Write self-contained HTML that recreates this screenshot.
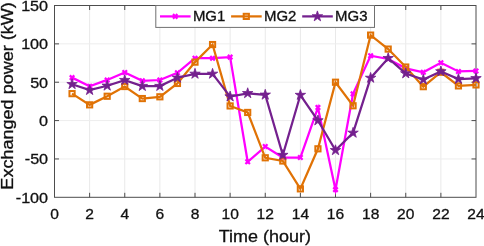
<!DOCTYPE html>
<html><head><meta charset="utf-8"><title>Exchanged power</title>
<style>html,body{margin:0;padding:0;background:#fff;overflow:hidden}svg{display:block}</style></head>
<body>
<svg width="484" height="246" viewBox="0 0 484 246" style="display:block">
<rect width="484" height="246" fill="#fff"/>
<line x1="89.62" y1="5.5" x2="89.62" y2="197.3" stroke="#e9e9e9" stroke-width="1"/>
<line x1="124.75" y1="5.5" x2="124.75" y2="197.3" stroke="#e9e9e9" stroke-width="1"/>
<line x1="159.88" y1="5.5" x2="159.88" y2="197.3" stroke="#e9e9e9" stroke-width="1"/>
<line x1="195.00" y1="5.5" x2="195.00" y2="197.3" stroke="#e9e9e9" stroke-width="1"/>
<line x1="230.12" y1="5.5" x2="230.12" y2="197.3" stroke="#e9e9e9" stroke-width="1"/>
<line x1="265.25" y1="5.5" x2="265.25" y2="197.3" stroke="#e9e9e9" stroke-width="1"/>
<line x1="300.38" y1="5.5" x2="300.38" y2="197.3" stroke="#e9e9e9" stroke-width="1"/>
<line x1="335.50" y1="5.5" x2="335.50" y2="197.3" stroke="#e9e9e9" stroke-width="1"/>
<line x1="370.62" y1="5.5" x2="370.62" y2="197.3" stroke="#e9e9e9" stroke-width="1"/>
<line x1="405.75" y1="5.5" x2="405.75" y2="197.3" stroke="#e9e9e9" stroke-width="1"/>
<line x1="440.88" y1="5.5" x2="440.88" y2="197.3" stroke="#e9e9e9" stroke-width="1"/>
<line x1="54.5" y1="43.86" x2="476.0" y2="43.86" stroke="#ededed" stroke-width="1"/>
<line x1="54.5" y1="82.22" x2="476.0" y2="82.22" stroke="#ededed" stroke-width="1"/>
<line x1="54.5" y1="120.58" x2="476.0" y2="120.58" stroke="#ededed" stroke-width="1"/>
<line x1="54.5" y1="158.94" x2="476.0" y2="158.94" stroke="#ededed" stroke-width="1"/>
<clipPath id="c"><rect x="54.5" y="5.5" width="421.5" height="191.8"/></clipPath>
<rect x="54.5" y="5.5" width="421.5" height="191.8" fill="none" stroke="#4d4d4d" stroke-width="1"/>
<line x1="89.62" y1="197.3" x2="89.62" y2="192.8" stroke="#4d4d4d" stroke-width="1"/>
<line x1="89.62" y1="5.5" x2="89.62" y2="10.0" stroke="#4d4d4d" stroke-width="1"/>
<line x1="124.75" y1="197.3" x2="124.75" y2="192.8" stroke="#4d4d4d" stroke-width="1"/>
<line x1="124.75" y1="5.5" x2="124.75" y2="10.0" stroke="#4d4d4d" stroke-width="1"/>
<line x1="159.88" y1="197.3" x2="159.88" y2="192.8" stroke="#4d4d4d" stroke-width="1"/>
<line x1="159.88" y1="5.5" x2="159.88" y2="10.0" stroke="#4d4d4d" stroke-width="1"/>
<line x1="195.00" y1="197.3" x2="195.00" y2="192.8" stroke="#4d4d4d" stroke-width="1"/>
<line x1="195.00" y1="5.5" x2="195.00" y2="10.0" stroke="#4d4d4d" stroke-width="1"/>
<line x1="230.12" y1="197.3" x2="230.12" y2="192.8" stroke="#4d4d4d" stroke-width="1"/>
<line x1="230.12" y1="5.5" x2="230.12" y2="10.0" stroke="#4d4d4d" stroke-width="1"/>
<line x1="265.25" y1="197.3" x2="265.25" y2="192.8" stroke="#4d4d4d" stroke-width="1"/>
<line x1="265.25" y1="5.5" x2="265.25" y2="10.0" stroke="#4d4d4d" stroke-width="1"/>
<line x1="300.38" y1="197.3" x2="300.38" y2="192.8" stroke="#4d4d4d" stroke-width="1"/>
<line x1="300.38" y1="5.5" x2="300.38" y2="10.0" stroke="#4d4d4d" stroke-width="1"/>
<line x1="335.50" y1="197.3" x2="335.50" y2="192.8" stroke="#4d4d4d" stroke-width="1"/>
<line x1="335.50" y1="5.5" x2="335.50" y2="10.0" stroke="#4d4d4d" stroke-width="1"/>
<line x1="370.62" y1="197.3" x2="370.62" y2="192.8" stroke="#4d4d4d" stroke-width="1"/>
<line x1="370.62" y1="5.5" x2="370.62" y2="10.0" stroke="#4d4d4d" stroke-width="1"/>
<line x1="405.75" y1="197.3" x2="405.75" y2="192.8" stroke="#4d4d4d" stroke-width="1"/>
<line x1="405.75" y1="5.5" x2="405.75" y2="10.0" stroke="#4d4d4d" stroke-width="1"/>
<line x1="440.88" y1="197.3" x2="440.88" y2="192.8" stroke="#4d4d4d" stroke-width="1"/>
<line x1="440.88" y1="5.5" x2="440.88" y2="10.0" stroke="#4d4d4d" stroke-width="1"/>
<line x1="54.5" y1="43.86" x2="59.0" y2="43.86" stroke="#4d4d4d" stroke-width="1"/>
<line x1="476.0" y1="43.86" x2="471.5" y2="43.86" stroke="#4d4d4d" stroke-width="1"/>
<line x1="54.5" y1="82.22" x2="59.0" y2="82.22" stroke="#4d4d4d" stroke-width="1"/>
<line x1="476.0" y1="82.22" x2="471.5" y2="82.22" stroke="#4d4d4d" stroke-width="1"/>
<line x1="54.5" y1="120.58" x2="59.0" y2="120.58" stroke="#4d4d4d" stroke-width="1"/>
<line x1="476.0" y1="120.58" x2="471.5" y2="120.58" stroke="#4d4d4d" stroke-width="1"/>
<line x1="54.5" y1="158.94" x2="59.0" y2="158.94" stroke="#4d4d4d" stroke-width="1"/>
<line x1="476.0" y1="158.94" x2="471.5" y2="158.94" stroke="#4d4d4d" stroke-width="1"/>
<g>
<polyline points="72.06,77.62 89.62,86.21 107.19,79.92 124.75,72.55 142.31,80.76 159.88,80.00 177.44,72.78 195.00,58.21 212.56,58.21 230.12,57.13 247.69,161.78 265.25,146.59 282.81,157.56 300.38,157.56 317.94,107.54 335.50,189.63 353.06,93.88 370.62,55.67 388.19,58.97 405.75,68.33 423.31,72.32 440.88,62.73 458.44,71.48 476.00,70.94" fill="none" stroke="#FF00FF" stroke-width="2.25" stroke-linejoin="miter" stroke-miterlimit="6"/>
<path d="M69.81 75.37L74.31 79.87M69.81 79.87L74.31 75.37" stroke="#FF00FF" stroke-width="2.2" fill="none"/>
<path d="M87.38 83.96L91.88 88.46M87.38 88.46L91.88 83.96" stroke="#FF00FF" stroke-width="2.2" fill="none"/>
<path d="M104.94 77.67L109.44 82.17M104.94 82.17L109.44 77.67" stroke="#FF00FF" stroke-width="2.2" fill="none"/>
<path d="M122.50 70.30L127.00 74.80M122.50 74.80L127.00 70.30" stroke="#FF00FF" stroke-width="2.2" fill="none"/>
<path d="M140.06 78.51L144.56 83.01M140.06 83.01L144.56 78.51" stroke="#FF00FF" stroke-width="2.2" fill="none"/>
<path d="M157.62 77.75L162.12 82.25M157.62 82.25L162.12 77.75" stroke="#FF00FF" stroke-width="2.2" fill="none"/>
<path d="M175.19 70.53L179.69 75.03M175.19 75.03L179.69 70.53" stroke="#FF00FF" stroke-width="2.2" fill="none"/>
<path d="M192.75 55.96L197.25 60.46M192.75 60.46L197.25 55.96" stroke="#FF00FF" stroke-width="2.2" fill="none"/>
<path d="M210.31 55.96L214.81 60.46M210.31 60.46L214.81 55.96" stroke="#FF00FF" stroke-width="2.2" fill="none"/>
<path d="M227.88 54.88L232.38 59.38M227.88 59.38L232.38 54.88" stroke="#FF00FF" stroke-width="2.2" fill="none"/>
<path d="M245.44 159.53L249.94 164.03M245.44 164.03L249.94 159.53" stroke="#FF00FF" stroke-width="2.2" fill="none"/>
<path d="M263.00 144.34L267.50 148.84M263.00 148.84L267.50 144.34" stroke="#FF00FF" stroke-width="2.2" fill="none"/>
<path d="M280.56 155.31L285.06 159.81M280.56 159.81L285.06 155.31" stroke="#FF00FF" stroke-width="2.2" fill="none"/>
<path d="M298.12 155.31L302.62 159.81M298.12 159.81L302.62 155.31" stroke="#FF00FF" stroke-width="2.2" fill="none"/>
<path d="M315.69 105.29L320.19 109.79M315.69 109.79L320.19 105.29" stroke="#FF00FF" stroke-width="2.2" fill="none"/>
<path d="M333.25 187.38L337.75 191.88M333.25 191.88L337.75 187.38" stroke="#FF00FF" stroke-width="2.2" fill="none"/>
<path d="M350.81 91.63L355.31 96.13M350.81 96.13L355.31 91.63" stroke="#FF00FF" stroke-width="2.2" fill="none"/>
<path d="M368.38 53.42L372.88 57.92M368.38 57.92L372.88 53.42" stroke="#FF00FF" stroke-width="2.2" fill="none"/>
<path d="M385.94 56.72L390.44 61.22M385.94 61.22L390.44 56.72" stroke="#FF00FF" stroke-width="2.2" fill="none"/>
<path d="M403.50 66.08L408.00 70.58M403.50 70.58L408.00 66.08" stroke="#FF00FF" stroke-width="2.2" fill="none"/>
<path d="M421.06 70.07L425.56 74.57M421.06 74.57L425.56 70.07" stroke="#FF00FF" stroke-width="2.2" fill="none"/>
<path d="M438.62 60.48L443.12 64.98M438.62 64.98L443.12 60.48" stroke="#FF00FF" stroke-width="2.2" fill="none"/>
<path d="M456.19 69.23L460.69 73.73M456.19 73.73L460.69 69.23" stroke="#FF00FF" stroke-width="2.2" fill="none"/>
<path d="M473.75 68.69L478.25 73.19M473.75 73.19L478.25 68.69" stroke="#FF00FF" stroke-width="2.2" fill="none"/>
<polyline points="72.06,93.65 89.62,104.85 107.19,96.26 124.75,86.52 142.31,98.56 159.88,96.80 177.44,83.45 195.00,62.12 212.56,44.55 230.12,105.93 247.69,112.45 265.25,157.79 282.81,161.01 300.38,188.86 317.94,148.81 335.50,82.22 353.06,105.77 370.62,35.11 388.19,49.08 405.75,67.03 423.31,86.67 440.88,72.25 458.44,85.90 476.00,84.91" fill="none" stroke="#E07205" stroke-width="2.25" stroke-linejoin="miter" stroke-miterlimit="6"/>
<rect x="69.46" y="91.05" width="5.20" height="5.20" fill="none" stroke="#E07205" stroke-width="2.0"/>
<rect x="87.03" y="102.25" width="5.20" height="5.20" fill="none" stroke="#E07205" stroke-width="2.0"/>
<rect x="104.59" y="93.66" width="5.20" height="5.20" fill="none" stroke="#E07205" stroke-width="2.0"/>
<rect x="122.15" y="83.92" width="5.20" height="5.20" fill="none" stroke="#E07205" stroke-width="2.0"/>
<rect x="139.71" y="95.96" width="5.20" height="5.20" fill="none" stroke="#E07205" stroke-width="2.0"/>
<rect x="157.28" y="94.20" width="5.20" height="5.20" fill="none" stroke="#E07205" stroke-width="2.0"/>
<rect x="174.84" y="80.85" width="5.20" height="5.20" fill="none" stroke="#E07205" stroke-width="2.0"/>
<rect x="192.40" y="59.52" width="5.20" height="5.20" fill="none" stroke="#E07205" stroke-width="2.0"/>
<rect x="209.96" y="41.95" width="5.20" height="5.20" fill="none" stroke="#E07205" stroke-width="2.0"/>
<rect x="227.53" y="103.33" width="5.20" height="5.20" fill="none" stroke="#E07205" stroke-width="2.0"/>
<rect x="245.09" y="109.85" width="5.20" height="5.20" fill="none" stroke="#E07205" stroke-width="2.0"/>
<rect x="262.65" y="155.19" width="5.20" height="5.20" fill="none" stroke="#E07205" stroke-width="2.0"/>
<rect x="280.21" y="158.41" width="5.20" height="5.20" fill="none" stroke="#E07205" stroke-width="2.0"/>
<rect x="297.77" y="186.26" width="5.20" height="5.20" fill="none" stroke="#E07205" stroke-width="2.0"/>
<rect x="315.34" y="146.21" width="5.20" height="5.20" fill="none" stroke="#E07205" stroke-width="2.0"/>
<rect x="332.90" y="79.62" width="5.20" height="5.20" fill="none" stroke="#E07205" stroke-width="2.0"/>
<rect x="350.46" y="103.17" width="5.20" height="5.20" fill="none" stroke="#E07205" stroke-width="2.0"/>
<rect x="368.02" y="32.51" width="5.20" height="5.20" fill="none" stroke="#E07205" stroke-width="2.0"/>
<rect x="385.59" y="46.48" width="5.20" height="5.20" fill="none" stroke="#E07205" stroke-width="2.0"/>
<rect x="403.15" y="64.43" width="5.20" height="5.20" fill="none" stroke="#E07205" stroke-width="2.0"/>
<rect x="420.71" y="84.07" width="5.20" height="5.20" fill="none" stroke="#E07205" stroke-width="2.0"/>
<rect x="438.27" y="69.65" width="5.20" height="5.20" fill="none" stroke="#E07205" stroke-width="2.0"/>
<rect x="455.84" y="83.30" width="5.20" height="5.20" fill="none" stroke="#E07205" stroke-width="2.0"/>
<rect x="473.40" y="82.31" width="5.20" height="5.20" fill="none" stroke="#E07205" stroke-width="2.0"/>
<polyline points="72.06,84.21 89.62,90.12 107.19,85.75 124.75,80.15 142.31,86.13 159.88,86.06 177.44,77.77 195.00,73.86 212.56,73.86 230.12,96.57 247.69,93.27 265.25,94.80 282.81,155.03 300.38,95.03 317.94,120.50 335.50,150.27 353.06,132.86 370.62,77.92 388.19,58.21 405.75,73.47 423.31,79.61 440.88,71.48 458.44,79.07 476.00,78.31" fill="none" stroke="#74208E" stroke-width="2.25" stroke-linejoin="miter" stroke-miterlimit="6"/>
<polygon points="72.06,78.71 73.30,82.51 77.29,82.52 74.06,84.86 75.30,88.66 72.06,86.32 68.83,88.66 70.06,84.86 66.83,82.52 70.83,82.51" fill="#74208E" stroke="#74208E" stroke-width="0.8" stroke-linejoin="miter"/>
<polygon points="89.62,84.62 90.86,88.42 94.86,88.42 91.62,90.77 92.86,94.57 89.62,92.22 86.39,94.57 87.63,90.77 84.39,88.42 88.39,88.42" fill="#74208E" stroke="#74208E" stroke-width="0.8" stroke-linejoin="miter"/>
<polygon points="107.19,80.25 108.42,84.05 112.42,84.05 109.19,86.40 110.42,90.20 107.19,87.85 103.95,90.20 105.19,86.40 101.96,84.05 105.95,84.05" fill="#74208E" stroke="#74208E" stroke-width="0.8" stroke-linejoin="miter"/>
<polygon points="124.75,74.65 125.98,78.45 129.98,78.45 126.75,80.80 127.98,84.60 124.75,82.25 121.52,84.60 122.75,80.80 119.52,78.45 123.52,78.45" fill="#74208E" stroke="#74208E" stroke-width="0.8" stroke-linejoin="miter"/>
<polygon points="142.31,80.63 143.55,84.43 147.54,84.43 144.31,86.78 145.55,90.58 142.31,88.23 139.08,90.58 140.31,86.78 137.08,84.43 141.08,84.43" fill="#74208E" stroke="#74208E" stroke-width="0.8" stroke-linejoin="miter"/>
<polygon points="159.88,80.56 161.11,84.36 165.11,84.36 161.87,86.71 163.11,90.51 159.88,88.16 156.64,90.51 157.88,86.71 154.64,84.36 158.64,84.36" fill="#74208E" stroke="#74208E" stroke-width="0.8" stroke-linejoin="miter"/>
<polygon points="177.44,72.27 178.67,76.07 182.67,76.07 179.44,78.42 180.67,82.22 177.44,79.87 174.20,82.22 175.44,78.42 172.21,76.07 176.20,76.07" fill="#74208E" stroke="#74208E" stroke-width="0.8" stroke-linejoin="miter"/>
<polygon points="195.00,68.36 196.23,72.16 200.23,72.16 197.00,74.51 198.23,78.31 195.00,75.96 191.77,78.31 193.00,74.51 189.77,72.16 193.77,72.16" fill="#74208E" stroke="#74208E" stroke-width="0.8" stroke-linejoin="miter"/>
<polygon points="212.56,68.36 213.80,72.16 217.79,72.16 214.56,74.51 215.80,78.31 212.56,75.96 209.33,78.31 210.56,74.51 207.33,72.16 211.33,72.16" fill="#74208E" stroke="#74208E" stroke-width="0.8" stroke-linejoin="miter"/>
<polygon points="230.12,91.07 231.36,94.87 235.36,94.87 232.12,97.22 233.36,101.02 230.12,98.67 226.89,101.02 228.13,97.22 224.89,94.87 228.89,94.87" fill="#74208E" stroke="#74208E" stroke-width="0.8" stroke-linejoin="miter"/>
<polygon points="247.69,87.77 248.92,91.57 252.92,91.57 249.69,93.92 250.92,97.72 247.69,95.37 244.45,97.72 245.69,93.92 242.46,91.57 246.45,91.57" fill="#74208E" stroke="#74208E" stroke-width="0.8" stroke-linejoin="miter"/>
<polygon points="265.25,89.30 266.48,93.10 270.48,93.10 267.25,95.45 268.48,99.25 265.25,96.90 262.02,99.25 263.25,95.45 260.02,93.10 264.02,93.10" fill="#74208E" stroke="#74208E" stroke-width="0.8" stroke-linejoin="miter"/>
<polygon points="282.81,149.53 284.05,153.33 288.04,153.33 284.81,155.68 286.05,159.48 282.81,157.13 279.58,159.48 280.81,155.68 277.58,153.33 281.58,153.33" fill="#74208E" stroke="#74208E" stroke-width="0.8" stroke-linejoin="miter"/>
<polygon points="300.38,89.53 301.61,93.33 305.61,93.33 302.37,95.68 303.61,99.48 300.38,97.13 297.14,99.48 298.38,95.68 295.14,93.33 299.14,93.33" fill="#74208E" stroke="#74208E" stroke-width="0.8" stroke-linejoin="miter"/>
<polygon points="317.94,115.00 319.17,118.80 323.17,118.80 319.94,121.15 321.17,124.95 317.94,122.60 314.70,124.95 315.94,121.15 312.71,118.80 316.70,118.80" fill="#74208E" stroke="#74208E" stroke-width="0.8" stroke-linejoin="miter"/>
<polygon points="335.50,144.77 336.73,148.57 340.73,148.57 337.50,150.92 338.73,154.72 335.50,152.37 332.27,154.72 333.50,150.92 330.27,148.57 334.27,148.57" fill="#74208E" stroke="#74208E" stroke-width="0.8" stroke-linejoin="miter"/>
<polygon points="353.06,127.36 354.30,131.16 358.29,131.16 355.06,133.50 356.30,137.30 353.06,134.96 349.83,137.30 351.06,133.50 347.83,131.16 351.83,131.16" fill="#74208E" stroke="#74208E" stroke-width="0.8" stroke-linejoin="miter"/>
<polygon points="370.62,72.42 371.86,76.22 375.86,76.22 372.62,78.57 373.86,82.37 370.62,80.02 367.39,82.37 368.63,78.57 365.39,76.22 369.39,76.22" fill="#74208E" stroke="#74208E" stroke-width="0.8" stroke-linejoin="miter"/>
<polygon points="388.19,52.71 389.42,56.51 393.42,56.51 390.19,58.86 391.42,62.66 388.19,60.31 384.95,62.66 386.19,58.86 382.96,56.51 386.95,56.51" fill="#74208E" stroke="#74208E" stroke-width="0.8" stroke-linejoin="miter"/>
<polygon points="405.75,67.97 406.98,71.77 410.98,71.77 407.75,74.12 408.98,77.92 405.75,75.57 402.52,77.92 403.75,74.12 400.52,71.77 404.52,71.77" fill="#74208E" stroke="#74208E" stroke-width="0.8" stroke-linejoin="miter"/>
<polygon points="423.31,74.11 424.55,77.91 428.54,77.91 425.31,80.26 426.55,84.06 423.31,81.71 420.08,84.06 421.31,80.26 418.08,77.91 422.08,77.91" fill="#74208E" stroke="#74208E" stroke-width="0.8" stroke-linejoin="miter"/>
<polygon points="440.88,65.98 442.11,69.78 446.11,69.78 442.87,72.13 444.11,75.93 440.88,73.58 437.64,75.93 438.88,72.13 435.64,69.78 439.64,69.78" fill="#74208E" stroke="#74208E" stroke-width="0.8" stroke-linejoin="miter"/>
<polygon points="458.44,73.57 459.67,77.37 463.67,77.37 460.44,79.72 461.67,83.52 458.44,81.18 455.20,83.52 456.44,79.72 453.21,77.37 457.20,77.37" fill="#74208E" stroke="#74208E" stroke-width="0.8" stroke-linejoin="miter"/>
<polygon points="476.00,72.81 477.23,76.61 481.23,76.61 478.00,78.96 479.23,82.76 476.00,80.41 472.77,82.76 474.00,78.96 470.77,76.61 474.77,76.61" fill="#74208E" stroke="#74208E" stroke-width="0.8" stroke-linejoin="miter"/>
</g>
<rect x="155.8" y="5.5" width="218.7" height="21.9" fill="#fff" stroke="#707070" stroke-width="1"/>
<line x1="160.0" y1="16.4" x2="190.6" y2="16.4" stroke="#FF00FF" stroke-width="2.25"/>
<path d="M172.95 14.15L177.45 18.65M172.95 18.65L177.45 14.15" stroke="#FF00FF" stroke-width="2.2" fill="none"/>
<text transform="translate(192.9,21.45) scale(1.04,1)" font-size="14.4" text-anchor="start" fill="#111" stroke="#111" stroke-width="0.3" font-family="Liberation Sans, sans-serif">MG1</text>
<line x1="231.1" y1="16.4" x2="261.7" y2="16.4" stroke="#E07205" stroke-width="2.25"/>
<rect x="243.70" y="13.80" width="5.20" height="5.20" fill="none" stroke="#E07205" stroke-width="2.0"/>
<text transform="translate(264.0,21.45) scale(1.04,1)" font-size="14.4" text-anchor="start" fill="#111" stroke="#111" stroke-width="0.3" font-family="Liberation Sans, sans-serif">MG2</text>
<line x1="302.2" y1="16.4" x2="332.8" y2="16.4" stroke="#74208E" stroke-width="2.25"/>
<polygon points="317.40,10.90 318.63,14.70 322.63,14.70 319.40,17.05 320.63,20.85 317.40,18.50 314.17,20.85 315.40,17.05 312.17,14.70 316.17,14.70" fill="#74208E" stroke="#74208E" stroke-width="0.8" stroke-linejoin="miter"/>
<text transform="translate(335.09999999999997,21.45) scale(1.04,1)" font-size="14.4" text-anchor="start" fill="#111" stroke="#111" stroke-width="0.3" font-family="Liberation Sans, sans-serif">MG3</text>
<text transform="translate(54.50,219.2) scale(1.04,1)" font-size="15" text-anchor="middle" fill="#111" stroke="#111" stroke-width="0.3" font-family="Liberation Sans, sans-serif">0</text>
<text transform="translate(89.62,219.2) scale(1.04,1)" font-size="15" text-anchor="middle" fill="#111" stroke="#111" stroke-width="0.3" font-family="Liberation Sans, sans-serif">2</text>
<text transform="translate(124.75,219.2) scale(1.04,1)" font-size="15" text-anchor="middle" fill="#111" stroke="#111" stroke-width="0.3" font-family="Liberation Sans, sans-serif">4</text>
<text transform="translate(159.88,219.2) scale(1.04,1)" font-size="15" text-anchor="middle" fill="#111" stroke="#111" stroke-width="0.3" font-family="Liberation Sans, sans-serif">6</text>
<text transform="translate(195.00,219.2) scale(1.04,1)" font-size="15" text-anchor="middle" fill="#111" stroke="#111" stroke-width="0.3" font-family="Liberation Sans, sans-serif">8</text>
<text transform="translate(230.12,219.2) scale(1.04,1)" font-size="15" text-anchor="middle" fill="#111" stroke="#111" stroke-width="0.3" font-family="Liberation Sans, sans-serif">10</text>
<text transform="translate(265.25,219.2) scale(1.04,1)" font-size="15" text-anchor="middle" fill="#111" stroke="#111" stroke-width="0.3" font-family="Liberation Sans, sans-serif">12</text>
<text transform="translate(300.38,219.2) scale(1.04,1)" font-size="15" text-anchor="middle" fill="#111" stroke="#111" stroke-width="0.3" font-family="Liberation Sans, sans-serif">14</text>
<text transform="translate(335.50,219.2) scale(1.04,1)" font-size="15" text-anchor="middle" fill="#111" stroke="#111" stroke-width="0.3" font-family="Liberation Sans, sans-serif">16</text>
<text transform="translate(370.62,219.2) scale(1.04,1)" font-size="15" text-anchor="middle" fill="#111" stroke="#111" stroke-width="0.3" font-family="Liberation Sans, sans-serif">18</text>
<text transform="translate(405.75,219.2) scale(1.04,1)" font-size="15" text-anchor="middle" fill="#111" stroke="#111" stroke-width="0.3" font-family="Liberation Sans, sans-serif">20</text>
<text transform="translate(440.88,219.2) scale(1.04,1)" font-size="15" text-anchor="middle" fill="#111" stroke="#111" stroke-width="0.3" font-family="Liberation Sans, sans-serif">22</text>
<text transform="translate(476.00,219.2) scale(1.04,1)" font-size="15" text-anchor="middle" fill="#111" stroke="#111" stroke-width="0.3" font-family="Liberation Sans, sans-serif">24</text>
<text transform="translate(48.1,11.00) scale(1.1,1)" font-size="14.7" text-anchor="end" fill="#111" stroke="#111" stroke-width="0.3" font-family="Liberation Sans, sans-serif">150</text>
<text transform="translate(48.1,49.36) scale(1.1,1)" font-size="14.7" text-anchor="end" fill="#111" stroke="#111" stroke-width="0.3" font-family="Liberation Sans, sans-serif">100</text>
<text transform="translate(48.1,87.72) scale(1.1,1)" font-size="14.7" text-anchor="end" fill="#111" stroke="#111" stroke-width="0.3" font-family="Liberation Sans, sans-serif">50</text>
<text transform="translate(48.1,126.08) scale(1.1,1)" font-size="14.7" text-anchor="end" fill="#111" stroke="#111" stroke-width="0.3" font-family="Liberation Sans, sans-serif">0</text>
<text transform="translate(48.1,164.44) scale(1.1,1)" font-size="14.7" text-anchor="end" fill="#111" stroke="#111" stroke-width="0.3" font-family="Liberation Sans, sans-serif">-50</text>
<text transform="translate(48.1,202.80) scale(1.1,1)" font-size="14.7" text-anchor="end" fill="#111" stroke="#111" stroke-width="0.3" font-family="Liberation Sans, sans-serif">-100</text>
<text transform="translate(264.8,241.9) scale(1.125,1)" font-size="16" text-anchor="middle" fill="#111" stroke="#111" stroke-width="0.3" font-family="Liberation Sans, sans-serif">Time (hour)</text>
<text transform="translate(12.9,95.9) rotate(-90) scale(1.128,1)" font-size="16" text-anchor="middle" fill="#111" stroke="#111" stroke-width="0.3" font-family="Liberation Sans, sans-serif">Exchanged power (kW)</text>
</svg>
</body></html>
